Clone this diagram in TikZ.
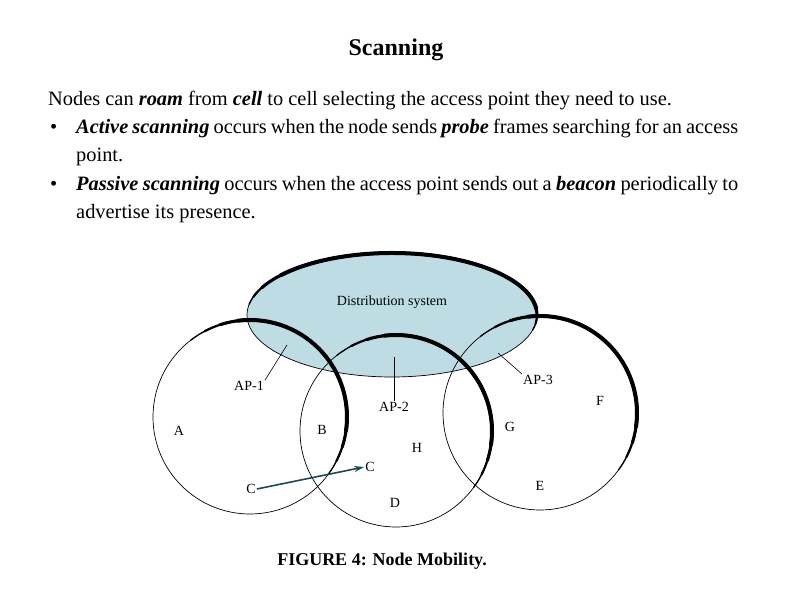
\documentclass[tikz,border=0pt]{standalone}
\usepackage{fontspec}
\setmainfont{Liberation Serif}
\usepackage{xcolor}
\usetikzlibrary{arrows.meta}
\definecolor{dsblue}{RGB}{190,220,227}
\definecolor{moveteal}{RGB}{25,75,85}
\tikzset{
  cell/.style={draw=black, line width=0.7pt},
  cell rim/.style={draw=black, line width=#1, line cap=round},
  dsystem/.style={draw=black, line width=0.7pt, fill=dsblue},
  tag/.style={inner sep=1pt, font=\fontsize{14}{16}\selectfont},
  body/.style={anchor=base west, inner sep=0pt, font=\fontsize{20.4}{24}\selectfont},
  pointer/.style={draw=black, line width=0.6pt},
  move/.style={draw=moveteal, line width=1.6pt, -{Stealth[length=10pt,width=6pt]}},
}
\newcommand{\bi}[1]{\textbf{\textit{#1}}}
\begin{document}
\begin{tikzpicture}[x=1pt, y=1pt]
  \useasboundingbox (0,0) rectangle (792,612);
  % heading and text
  \node[anchor=base, inner sep=0pt, font=\fontsize{24}{28}\selectfont\bfseries] (title) at (396,556) {Scanning};
  \node[body] (l1) at (48,506) {Nodes can \bi{roam} from \bi{cell} to cell selecting the access point they need to use.};
  \node[body] (b1) at (50,478) {\textbullet};
  \node[body] (l2) at (76,478) {\makebox[662pt][s]{\bi{Active scanning} occurs when the node sends \bi{probe} frames searching for an access}};
  \node[body] (l3) at (76,450) {point.};
  \node[body] (b2) at (50,421) {\textbullet};
  \node[body] (l4) at (76,421) {\makebox[662pt][s]{\bi{Passive scanning} occurs when the access point sends out a \bi{beacon} periodically to}};
  \node[body] (l5) at (76,393) {advertise its presence.};

  % distribution system
  \coordinate (ds) at (392,297);
  \draw[dsystem] (ds) ellipse[x radius=145, y radius=62];
  \foreach \w/\s/\e in {1.3pt/170/-14, 2.2pt/163/-8, 3.1pt/154/-2, 4pt/140/6}
    \draw[cell rim=\w] ([shift={(\s:145 and 62)}]ds) arc[start angle=\s, end angle=\e, x radius=145, y radius=62];
  \node[tag] (dslabel) at (392,310) {Distribution system};

  % cells
  \coordinate (c1) at (250,195);
  \coordinate (c2) at (396,181);
  \coordinate (c3) at (540,199);
  \foreach \c/\r in {c1/97, c2/96, c3/97} {
    \draw[cell] (\c) circle[radius=\r];
    \foreach \w/\s/\e in {1.3pt/128/-36, 2.2pt/118/-27, 3.1pt/108/-18, 4pt/97/-8}
      \draw[cell rim=\w] ([shift={(\s:\r)}]\c) arc[start angle=\s, end angle=\e, radius=\r];
  }

  % access points
  \node[tag] (ap1) at (249,226) {AP-1};
  \node[tag] (ap2) at (394,205) {AP-2};
  \node[tag] (ap3) at (538,232) {AP-3};
  \coordinate (ap1top) at (287,267);
  \coordinate (ap2top) at (394,255);
  \coordinate (ap3top) at (498,259);
  \draw[pointer] (ap1.north east) -- (ap1top);
  \draw[pointer] (ap2.north) -- (ap2top);
  \draw[pointer] (ap3.north west) -- (ap3top);

  % stations
  \node[tag] (a) at (179,181) {A};
  \node[tag] (b) at (322,182) {B};
  \node[tag] (f) at (600,211) {F};
  \node[tag] (g) at (510,185) {G};
  \node[tag] (h) at (417,164) {H};
  \node[tag] (cold) at (251,123) {C};
  \node[tag] (cnew) at (370,145) {C};
  \node[tag] (d) at (395,109) {D};
  \node[tag] (e) at (540,126) {E};
  \draw[move] (cold.east) -- (cnew.west);

  % caption
  \node[inner sep=0pt, font=\fontsize{18}{22}\selectfont\bfseries] (caption) at (382,51) {FIGURE 4: Node Mobility.};
\end{tikzpicture}
\end{document}
